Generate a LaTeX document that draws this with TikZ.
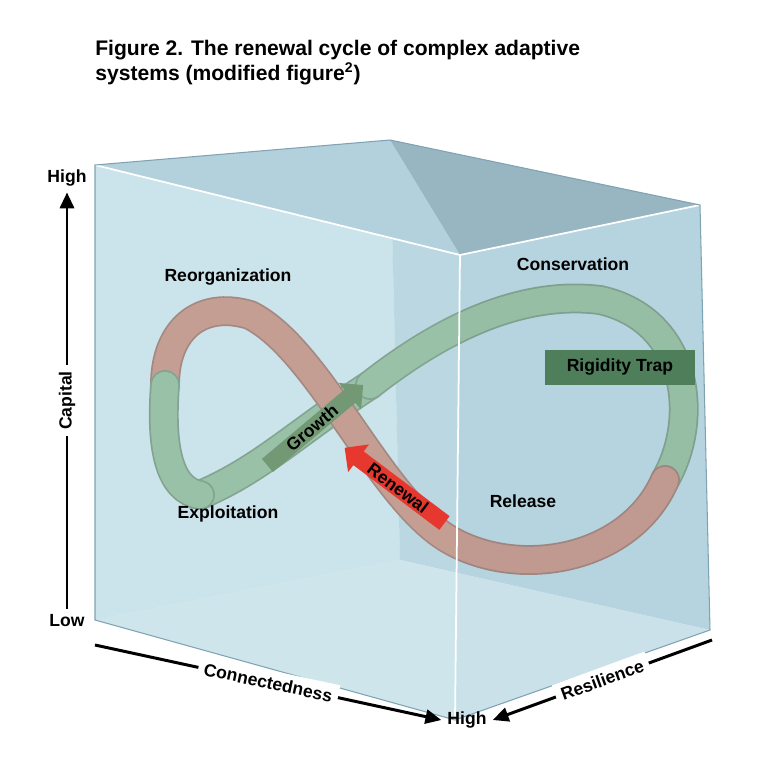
\documentclass[tikz,border=0pt]{standalone}
\usepackage{fontspec}
\setmainfont{Liberation Sans}
\usetikzlibrary{arrows.meta,positioning,shapes.arrows,calc}
\definecolor{glass}{HTML}{BFDCE6}
\definecolor{glassdark}{HTML}{7FA3B3}
\definecolor{bandred}{HTML}{C87C68}
\definecolor{bandgreen}{HTML}{86B487}
\definecolor{trapgreen}{HTML}{4E7E5A}
\tikzset{
  lbl/.style={font=\bfseries\normalsize, text=black},
  axis/.style={line width=1.7pt, -{Triangle[length=9pt,width=8pt]}},
  band/.style={line width=15pt, line cap=round},
  rim/.style={line width=17pt, line cap=round},
  flow/.style={single arrow, single arrow head extend=5pt, minimum height=2.5cm,
    minimum width=0.6cm, inner sep=1pt, font=\bfseries\normalsize}
}
\begin{document}
\begin{tikzpicture}[x=0.02cm,y=-0.02cm]
\useasboundingbox (0,0) rectangle (782,782);
\fill[white] (0,0) rectangle (782,782);
% title
\node[anchor=north west, align=left, font=\bfseries\large, inner sep=0] (title) at (95,40)
  {Figure 2. The renewal cycle of complex adaptive\\systems (modified figure\textsuperscript{2})};
% cube corners
\coordinate (tl) at (95,165);
\coordinate (tb) at (390,140);
\coordinate (tr) at (700,205);
\coordinate (tf) at (460,255);
\coordinate (bl) at (95,620);
\coordinate (bb) at (400,560);
\coordinate (br) at (710,630);
\coordinate (bf) at (455,720);
% back faces
\fill[glass!70] (tl) -- (tb) -- (bb) -- (bl) -- cycle;
\fill[glass!90!glassdark] (tb) -- (tr) -- (br) -- (bb) -- cycle;
\fill[glass!60] (bl) -- (bb) -- (br) -- (bf) -- cycle;
\fill[glassdark!80] (tb) -- (tr) -- (tf) -- cycle;
\fill[glass!80!glassdark] (tl) -- (tb) -- (tf) -- cycle;
% band
\draw[rim, bandgreen!75!black] (200,495) .. controls (260,470) and (300,430) .. (370,385);
\draw[band, bandgreen] (200,495) .. controls (260,470) and (300,430) .. (370,385);
\draw[rim, bandgreen!75!black]
  (370,385) .. controls (440,330) and (520,290) .. (600,300)
  .. controls (690,320) and (700,420) .. (665,480);
\draw[band, bandgreen] (370,385) .. controls (440,330) and (520,290) .. (600,300)
  .. controls (690,320) and (700,420) .. (665,480);
\draw[rim, bandred!75!black]
  (665,480) .. controls (630,560) and (520,580) .. (450,540)
  .. controls (380,500) and (320,350) .. (250,315)
  .. controls (200,300) and (165,330) .. (165,385);
\draw[band, bandred] (665,480) .. controls (630,560) and (520,580) .. (450,540)
  .. controls (380,500) and (320,350) .. (250,315)
  .. controls (200,300) and (165,330) .. (165,385);
\draw[rim, bandgreen!75!black] (165,385) .. controls (160,450) and (170,490) .. (200,495);
\draw[band, bandgreen] (165,385) .. controls (160,450) and (170,490) .. (200,495);
% front faces
\fill[glass, opacity=0.35] (tl) -- (tf) -- (bf) -- (bl) -- cycle;
\fill[glass!80!glassdark, opacity=0.35] (tf) -- (tr) -- (br) -- (bf) -- cycle;
\draw[white, line width=1pt] (tl) -- (tf) -- (tr) (tf) -- (bf);
\draw[glassdark, line width=0.6pt] (tl) -- (tb) -- (tr) -- (br) -- (bf) -- (bl) -- cycle;
% flow arrows
\node[flow, fill=bandgreen!85!black, rotate=40] (growth) at (312,428) {Growth};
\node[flow, fill=red!55!bandred, shape border rotate=180, rotate=-37] (renewal) at (398,488) {Renewal};
\node[fill=trapgreen, font=\bfseries\normalsize, minimum width=3cm,
  minimum height=0.7cm, text=black] (trap) at (620,367) {Rigidity Trap};
% phase labels
\node[lbl] (reorg) at (228,277) {Reorganization};
\node[lbl] (cons) at (573,264) {Conservation};
\node[lbl] (expl) at (228,514) {Exploitation};
\node[lbl] (rel) at (523,501) {Release};
% axes
\node[lbl] (high) at (67,178) {High};
\node[lbl] (low) at (67,621) {Low};
\draw[axis] (low) -- (high) node[midway, fill=white, rotate=90, lbl] {Capital};
\node[lbl] (high2) at (467,720) {High};
\coordinate (cstart) at (95,645);
\coordinate (rstart) at (712,640);
\draw[axis] (cstart) -- (high2.west) node[midway, fill=white, rotate=-12, lbl] {Connectedness};
\draw[axis] (rstart) -- (high2.east) node[midway, fill=white, rotate=20, lbl] {Resilience};
\end{tikzpicture}
\end{document}
